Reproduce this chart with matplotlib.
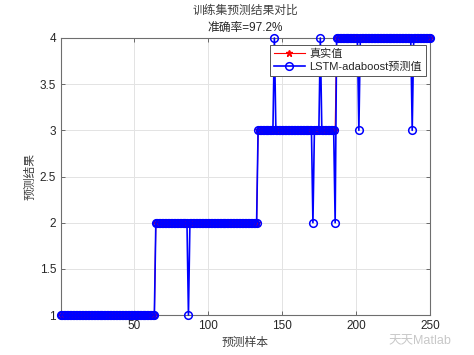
import matplotlib
matplotlib.use("Agg")
from matplotlib import pyplot as plt
import numpy as np

# class boundaries of the true labels (first sample index of each class)
class_starts = [1, 65, 134, 187]
class_values = [1, 2, 3, 4]
n_samples = 250

# misclassified samples: (sample index, predicted value)
wrong_samples = [87, 145, 171, 176, 186, 202, 238]
wrong_values = [1, 4, 2, 4, 2, 3, 3]

title_lines = ["训练集预测结果对比", "准确率=97.2%"]
legend_labels = ["真实值", "LSTM-adaboost预测值"]

plt.rcParams['font.family'] = ['Liberation Sans', 'Noto Sans CJK SC']

x = np.arange(1, n_samples + 1)
true_vals = np.zeros(n_samples)
for start, val in zip(class_starts, class_values):
    true_vals[x >= start] = val
pred_vals = true_vals.copy()
for idx, val in zip(wrong_samples, wrong_values):
    pred_vals[idx - 1] = val

fig = plt.figure(figsize=(4.74, 3.55), dpi=100)
ax = fig.add_axes([61 / 474, 1 - 315 / 355, 369 / 474, 277 / 355])

ax.plot(x, true_vals, color='r', marker='*', markersize=5, linewidth=0.8,
        label=legend_labels[0], clip_on=False, zorder=3)
ax.plot(x, pred_vals, color='#0000ff', marker='o', markersize=5.5,
        markerfacecolor='none', markeredgewidth=1.1, linewidth=1.2,
        label=legend_labels[1], clip_on=False, zorder=4)

ax.set_xlim(1, 250)
ax.set_ylim(1, 4)
ax.set_xticks([50, 100, 150, 200, 250])
ax.set_yticks([1, 1.5, 2, 2.5, 3, 3.5, 4])
ax.set_yticklabels(['1', '1.5', '2', '2.5', '3', '3.5', '4'])
ax.grid(True, color='#e3e3e3', linewidth=0.7)
ax.set_axisbelow(True)
ax.tick_params(direction='in', length=3, width=0.6, colors='#555555',
               labelsize=8.5, top=True, right=True, labelcolor='#262626')
for sp in ax.spines.values():
    sp.set_color('#6e6e6e')
    sp.set_linewidth(0.8)

ax.set_xlabel("预测样本", fontsize=8.5, color='#404040', labelpad=4)
ax.set_ylabel("预测结果", fontsize=8.5, color='#404040', labelpad=2)

fig.text(0.517, 1 - 11 / 355, title_lines[0], ha='center', va='center',
         fontsize=8.5, color='#404040')
fig.text(0.517, 1 - 28 / 355, title_lines[1], ha='center', va='center',
         fontsize=8.5, color='#262626')

leg = ax.legend(loc='upper right', bbox_to_anchor=(0.988, 0.976),
                borderaxespad=0, fontsize=8, fancybox=False, framealpha=1,
                edgecolor='#555555', handlelength=2.8, borderpad=0.35,
                labelspacing=0.25, handletextpad=0.4)
leg.get_frame().set_linewidth(0.7)
for t in leg.get_texts():
    t.set_color('#262626')

# watermark
fig.text(0.885, 1 - 341 / 355, "天天Matlab", ha='center', va='center',
         fontsize=9, color='#c8c8c8')

fig.savefig("out.png", dpi=100)
